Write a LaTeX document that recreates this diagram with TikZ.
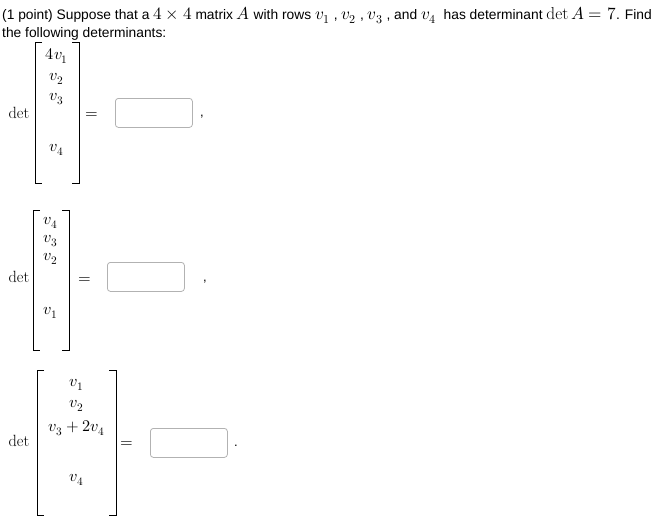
\documentclass[tikz,border=0pt]{standalone}
\usepackage{fontspec}
\setmainfont{Liberation Sans}
\usepackage{unicode-math}
\setmathfont{Latin Modern Math}[Scale=1.25]
\setmathrm{Latin Modern Roman}[Scale=1.25]
\begin{document}
\begin{tikzpicture}[x=1pt,y=-1pt,
  txt/.style={anchor=base west,inner sep=0,font=\fontsize{13.8}{15}\selectfont},
  ent/.style={inner sep=0,font=\fontsize{13}{15}\selectfont},
  br/.style={line width=0.9pt},
  ans/.style={draw=black!30,rounded corners=3pt,line width=0.8pt,minimum width=77pt,minimum height=29pt,anchor=north west,inner sep=0}]
\useasboundingbox (0,0) rectangle (665,523);
\node[txt] (l1) at (2,19) {(1 point) Suppose that a $4\times4$ matrix $A$ with rows $v_1$ , $v_2$ , $v_3$ , and $v_4$ \ has determinant $\det A=7$. Find};
\node[txt] (l2) at (2,37) {the following determinants:};
% matrix 1
\draw[br] (42,42)--(35,42)--(35,183)--(42,183);
\draw[br] (72,42)--(79,42)--(79,183)--(72,183);
\node[ent] (a1) at (57,56) {$4v_1$};
\node[ent] (a2) at (57,79) {$v_2$};
\node[ent] (a3) at (57,99) {$v_3$};
\node[ent] (a4) at (57,150) {$v_4$};
\node[ent] (d1) at (19,113) {$\det$};
\node[ent] (e1) at (92,116) {$=$};
\node[ans] (b1) at (115,98) {};
\node[ent] (c1) at (202,117) {,};
% matrix 2
\draw[br] (40,210)--(33,210)--(33,350)--(40,350);
\draw[br] (62,210)--(69,210)--(69,350)--(62,350);
\node[ent] (m1) at (51,223) {$v_4$};
\node[ent] (m2) at (51,241) {$v_3$};
\node[ent] (m3) at (51,259) {$v_2$};
\node[ent] (m4) at (51,313) {$v_1$};
\node[ent] (d2) at (19,277) {$\det$};
\node[ent] (e2) at (85,281) {$=$};
\node[ans] (b2) at (107,262) {};
\node[ent] (c2) at (205,282) {,};
% matrix 3
\draw[br] (44,370)--(37,370)--(37,515)--(44,515);
\draw[br] (109,370)--(116,370)--(116,515)--(109,515);
\node[ent] (n1) at (77,385) {$v_1$};
\node[ent] (n2) at (77,406) {$v_2$};
\node[ent] (n3) at (77,428) {$v_3+2v_4$};
\node[ent] (n4) at (77,480) {$v_4$};
\node[ent] (d3) at (19,441) {$\det$};
\node[ent] (e3) at (127,445) {$=$};
\node[ans] (b3) at (150,428) {};
\node[ent] (c3) at (236,446) {.};
\end{tikzpicture}
\end{document}
